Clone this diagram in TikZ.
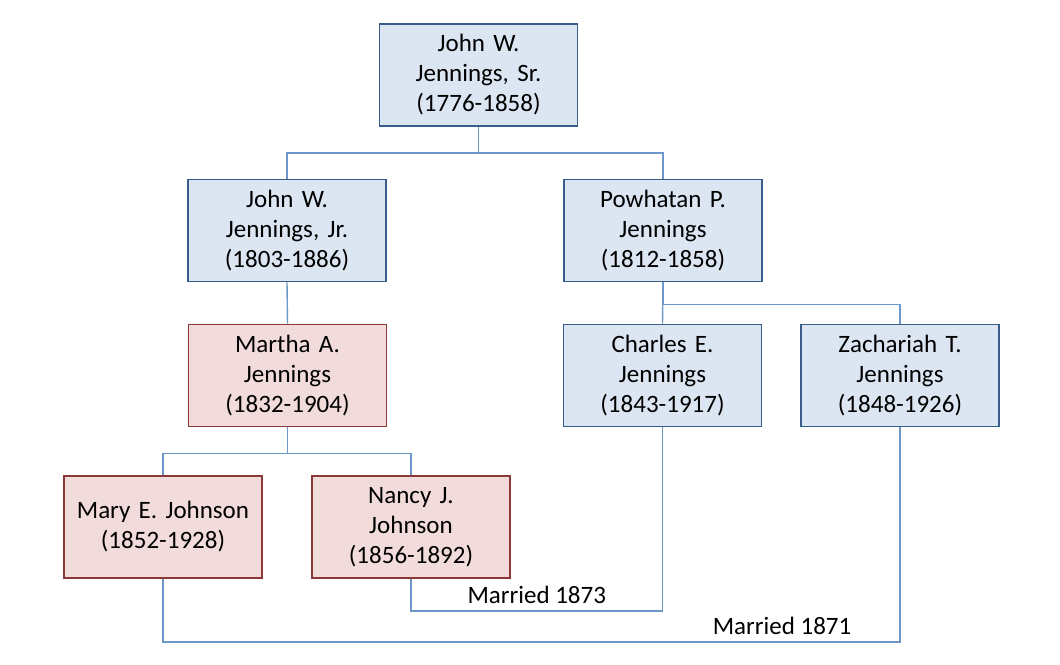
\documentclass[tikz,border=0pt]{standalone}
\usepackage{fontspec}
\setmainfont{Carlito}
\definecolor{bluefill}{HTML}{DCE6F2}
\definecolor{blueline}{HTML}{385D8A}
\definecolor{redfill}{HTML}{F2DCDB}
\definecolor{redline}{HTML}{8C3836}
\definecolor{linkcol}{HTML}{6C97C8}
\tikzset{
  person/.style={draw, line width=1.6pt, minimum width=198pt, minimum height=102pt,
    text width=190pt, align=center, inner sep=0pt, font=\fontsize{25}{30}\selectfont},
  bluebox/.style={person, draw=blueline, fill=bluefill},
  redbox/.style={person, draw=redline, fill=redfill},
  link/.style={draw=linkcol, line width=1.4pt},
  label/.style={font=\fontsize{25}{30}\selectfont, inner sep=1pt}
}
\begin{document}
\begin{tikzpicture}[x=1pt,y=-1pt]
  \useasboundingbox (0,0) rectangle (1060,664);
  % boxes
  \node[bluebox] (sr) at (478.5,75) {John W.\\ Jennings, Sr.\\ (1776-1858)};
  \node[bluebox] (jr) at (287,230.5) {John W.\\ Jennings, Jr.\\ (1803-1886)};
  \node[bluebox] (pow) at (663,230.5) {Powhatan P.\\ Jennings\\ (1812-1858)};
  \node[redbox] (martha) at (287.5,375.5) {Martha A.\\ Jennings\\ (1832-1904)};
  \node[bluebox] (charles) at (662.5,375.5) {Charles E.\\ Jennings\\ (1843-1917)};
  \node[bluebox] (zach) at (900,375.5) {Zachariah T.\\ Jennings\\ (1848-1926)};
  \node[redbox] (mary) at (163,527) {Mary E. Johnson\\ (1852-1928)};
  \node[redbox] (nancy) at (411,527) {Nancy J.\\ Johnson\\ (1856-1892)};
  % lines
  \draw[link] (sr.south) -- ++(0,26) -| (jr.north);
  \draw[link] (sr.south) -- ++(0,26) -| (pow.north);
  \draw[link] (jr.south) -- (martha.north);
  \draw[link] (pow.south) -- (charles.north);
  \draw[link] (pow.south) -- ++(0,22) -| (zach.north);
  \draw[link] (martha.south) -- ++(0,26) -| (mary.north);
  \draw[link] (martha.south) -- ++(0,26) -| (nancy.north);
  \draw[link] (nancy.south) -- ++(0,32) -| node[label, pos=0.25, above=5pt] {Married 1873} (charles.south);
  \draw[link] (mary.south) -- ++(0,63) -| node[label, pos=0.42, above=5pt] {Married 1871} (zach.south);
\end{tikzpicture}
\end{document}
